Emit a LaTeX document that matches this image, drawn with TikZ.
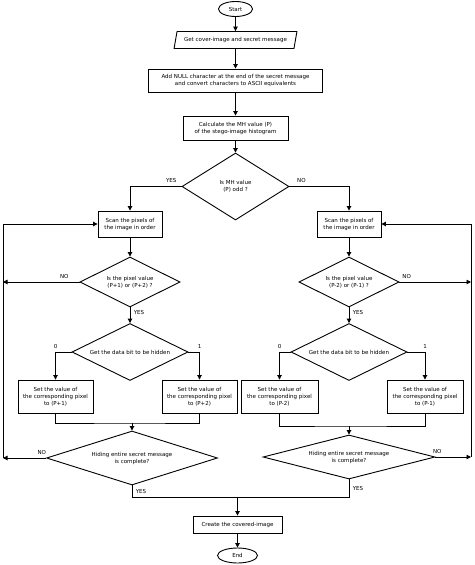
\documentclass[tikz,border=0pt]{standalone}
\usepackage{fontspec}
\setmainfont{DejaVu Sans}
\usetikzlibrary{shapes.geometric,arrows.meta}

\begin{document}
\begin{tikzpicture}[x=1pt, y=-1pt, line width=0.9pt,
        every node/.style = {font=\fontsize{5.5}{7}\selectfont, align=center},
        box/.style = {rectangle, draw, inner sep=1pt},
        io/.style = {trapezium, draw,
            trapezium left angle=70, trapezium right angle=110,
            trapezium stretches=true, inner sep=1pt},
        term/.style = {ellipse, draw, inner sep=0pt},
        test/.style = {diamond, draw, inner sep=0pt},
        arr/.style = {-{Triangle[length=4.5pt,width=4.5pt]}}]

    \useasboundingbox (0,0) rectangle (474,565);

    % Top part
    \node[term, minimum width=34, minimum height=15] (start) at (235.5,9) {Start};
    \node[io, minimum width=123, minimum height=17] (input) at (235.5,40) {Get cover-image and secret message};
    \node[box, minimum width=174, minimum height=23] (addnull) at (235.5,80.5)
        {Add NULL character at the end of the secret message\\and convert characters to ASCII equivalents};
    \node[box, minimum width=105, minimum height=24] (calc) at (235.5,128)
        {Calculate the MH value (P)\\of the stego-image histogram};
    \node[test, aspect=1.6, minimum width=107, minimum height=67] (odd) at (235.5,186.5) {Is MH value\\(P) odd ?};

    % Left branch
    \node[box, minimum width=64, minimum height=26] (scanL) at (130,224) {Scan the pixels of\\the image in order};
    \node[test, aspect=2, minimum width=100, minimum height=50] (pixL) at (130,282) {Is the pixel value\\(P+1) or (P+2) ?};
    \node[test, aspect=2, minimum width=116, minimum height=57] (bitL) at (130,352) {Get the data bit to be hidden};
    \node[box, minimum width=75, minimum height=33] (setL1) at (55.5,396.5) {Set the value of\\the corresponding pixel\\to (P+1)};
    \node[box, minimum width=75, minimum height=33] (setL2) at (199.5,396.5) {Set the value of\\the corresponding pixel\\to (P+2)};
    \node[test, aspect=3.2, minimum width=171, minimum height=54] (doneL) at (132,458) {Hiding entire secret message\\is complete?};

    % Right branch
    \node[box, minimum width=64, minimum height=26] (scanR) at (349,224) {Scan the pixels of\\the image in order};
    \node[test, aspect=2, minimum width=100, minimum height=50] (pixR) at (349,282) {Is the pixel value\\(P-2) or (P-1) ?};
    \node[test, aspect=2, minimum width=116, minimum height=57] (bitR) at (349,352) {Get the data bit to be hidden};
    \node[box, minimum width=77, minimum height=33] (setR1) at (279.5,396.5) {Set the value of\\the corresponding pixel\\to (P-2)};
    \node[box, minimum width=76, minimum height=33] (setR2) at (425,396.5) {Set the value of\\the corresponding pixel\\to (P-1)};
    \node[test, aspect=3.9, minimum width=172, minimum height=44] (doneR) at (349,457) {Hiding entire secret message\\is complete?};

    % Bottom part
    \node[box, minimum width=89, minimum height=17] (create) at (237.5,524.5) {Create the covered-image};
    \node[term, minimum width=40, minimum height=15] (end) at (237.5,555.5) {End};

    % Helper points
    \coordinate (loopL) at (3,224);
    \coordinate (loopR) at (471,224);
    \coordinate (mergeL) at (132,423);
    \coordinate (mergeR) at (349,426);
    \coordinate (joinC) at (237.5,497);

    % Main flow
    \draw[arr] (start) -- (input);
    \draw[arr] (input) -- (addnull);
    \draw[arr] (addnull) -- (calc);
    \draw[arr] (calc) -- (odd);
    \draw[arr] (odd.west) -| node[pos=0.1, above]{YES} (scanL);
    \draw[arr] (odd.east) -| node[pos=0.1, above]{NO} (scanR);

    % Left flow
    \draw[arr] (scanL) -- (pixL);
    \draw[arr] (pixL) -- node[pos=0.3, right]{YES} (bitL);
    \draw[arr] (bitL.west) -| node[pos=0.5, above]{0} (setL1);
    \draw[arr] (bitL.east) -| node[pos=0.5, above]{1} (setL2);
    \draw (setL1.south) |- (mergeL) -| (setL2.south);
    \draw[arr] (mergeL) -- (doneL.north);
    \draw[arr] (pixL.west) -- node[pos=0.2, above]{NO} (pixL.west -| loopL);
    \draw[arr] (doneL.west) -- node[pos=0.1, above]{NO} (doneL.west -| loopL);
    \draw[arr] (doneL.west -| loopL) |- (scanL.west);

    % Right flow
    \draw[arr] (scanR) -- (pixR);
    \draw[arr] (pixR) -- node[pos=0.3, right]{YES} (bitR);
    \draw[arr] (bitR.west) -| node[pos=0.5, above]{0} (setR1);
    \draw[arr] (bitR.east) -| node[pos=0.5, above]{1} (setR2);
    \draw (setR1.south) |- (mergeR) -| (setR2.south);
    \draw[arr] (mergeR) -- (doneR.north);
    \draw[arr] (pixR.east) -- node[pos=0.1, above]{NO} (pixR.east -| loopR);
    \draw[arr] (doneR.east) -- node[pos=0.05, above]{NO} (doneR.east -| loopR);
    \draw[arr] (doneR.east -| loopR) |- (scanR.east);

    % Join
    \draw (doneL.south) |- node[pos=0.25, right]{YES} (joinC);
    \draw (doneR.south) |- node[pos=0.25, right]{YES} (joinC);
    \draw[arr] (joinC) -- (create);
    \draw[arr] (create) -- (end);

\end{tikzpicture}
\end{document}
